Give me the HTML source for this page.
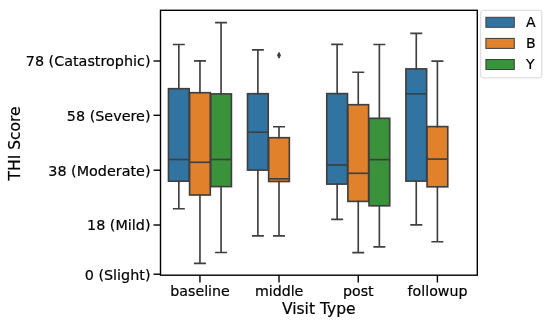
<!DOCTYPE html>
<html><head><meta charset="utf-8"><title>THI Score by Visit Type</title>
<style>html,body{margin:0;padding:0;background:#fff}svg{display:block}text{font-family:"DejaVu Sans","Liberation Sans",sans-serif;fill:#000;stroke:#000;stroke-width:0.2px}</style>
</head><body>
<svg width="550" height="324" viewBox="0 0 550 324">
<rect width="550" height="324" fill="#fff"/>
<rect x="168.48" y="88.70" width="20.70" height="92.50" fill="#3274a1" stroke="#3f3f3f" stroke-width="1.65"/>
<path d="M178.83 88.70V44.50M178.83 181.20V208.70M173.66 44.50H184.00M173.66 208.70H184.00" stroke="#3f3f3f" stroke-width="1.65" stroke-linecap="square" fill="none"/>
<path d="M168.48 159.50H189.18" stroke="#3f3f3f" stroke-width="1.65" fill="none"/>
<rect x="189.60" y="92.70" width="20.70" height="102.30" fill="#e1812c" stroke="#3f3f3f" stroke-width="1.65"/>
<path d="M199.95 92.70V60.80M199.95 195.00V263.40M194.78 60.80H205.12M194.78 263.40H205.12" stroke="#3f3f3f" stroke-width="1.65" stroke-linecap="square" fill="none"/>
<path d="M189.60 162.30H210.30" stroke="#3f3f3f" stroke-width="1.65" fill="none"/>
<rect x="210.72" y="93.90" width="20.70" height="92.70" fill="#3a923a" stroke="#3f3f3f" stroke-width="1.65"/>
<path d="M221.07 93.90V22.60M221.07 186.60V252.50M215.90 22.60H226.24M215.90 252.50H226.24" stroke="#3f3f3f" stroke-width="1.65" stroke-linecap="square" fill="none"/>
<path d="M210.72 159.50H231.42" stroke="#3f3f3f" stroke-width="1.65" fill="none"/>
<rect x="247.53" y="93.70" width="20.70" height="76.40" fill="#3274a1" stroke="#3f3f3f" stroke-width="1.65"/>
<path d="M257.88 93.70V49.90M257.88 170.10V235.90M252.71 49.90H263.05M252.71 235.90H263.05" stroke="#3f3f3f" stroke-width="1.65" stroke-linecap="square" fill="none"/>
<path d="M247.53 132.20H268.23" stroke="#3f3f3f" stroke-width="1.65" fill="none"/>
<rect x="268.65" y="137.70" width="20.70" height="43.80" fill="#e1812c" stroke="#3f3f3f" stroke-width="1.65"/>
<path d="M279.00 137.70V126.70M279.00 181.50V235.90M273.83 126.70H284.17M273.83 235.90H284.17" stroke="#3f3f3f" stroke-width="1.65" stroke-linecap="square" fill="none"/>
<path d="M268.65 178.80H289.35" stroke="#3f3f3f" stroke-width="1.65" fill="none"/>
<rect x="326.78" y="93.60" width="20.70" height="90.50" fill="#3274a1" stroke="#3f3f3f" stroke-width="1.65"/>
<path d="M337.13 93.60V44.40M337.13 184.10V219.40M331.96 44.40H342.30M331.96 219.40H342.30" stroke="#3f3f3f" stroke-width="1.65" stroke-linecap="square" fill="none"/>
<path d="M326.78 165.00H347.48" stroke="#3f3f3f" stroke-width="1.65" fill="none"/>
<rect x="347.90" y="104.70" width="20.70" height="96.70" fill="#e1812c" stroke="#3f3f3f" stroke-width="1.65"/>
<path d="M358.25 104.70V72.20M358.25 201.40V252.60M353.08 72.20H363.42M353.08 252.60H363.42" stroke="#3f3f3f" stroke-width="1.65" stroke-linecap="square" fill="none"/>
<path d="M347.90 173.30H368.60" stroke="#3f3f3f" stroke-width="1.65" fill="none"/>
<rect x="369.02" y="118.30" width="20.70" height="87.50" fill="#3a923a" stroke="#3f3f3f" stroke-width="1.65"/>
<path d="M379.37 118.30V44.50M379.37 205.80V246.90M374.20 44.50H384.54M374.20 246.90H384.54" stroke="#3f3f3f" stroke-width="1.65" stroke-linecap="square" fill="none"/>
<path d="M369.02 159.60H389.72" stroke="#3f3f3f" stroke-width="1.65" fill="none"/>
<rect x="405.93" y="68.90" width="20.70" height="112.20" fill="#3274a1" stroke="#3f3f3f" stroke-width="1.65"/>
<path d="M416.28 68.90V33.40M416.28 181.10V224.90M411.11 33.40H421.45M411.11 224.90H421.45" stroke="#3f3f3f" stroke-width="1.65" stroke-linecap="square" fill="none"/>
<path d="M405.93 93.80H426.63" stroke="#3f3f3f" stroke-width="1.65" fill="none"/>
<rect x="427.05" y="126.60" width="20.70" height="60.20" fill="#e1812c" stroke="#3f3f3f" stroke-width="1.65"/>
<path d="M437.40 126.60V61.10M437.40 186.80V241.70M432.23 61.10H442.57M432.23 241.70H442.57" stroke="#3f3f3f" stroke-width="1.65" stroke-linecap="square" fill="none"/>
<path d="M427.05 159.10H447.75" stroke="#3f3f3f" stroke-width="1.65" fill="none"/>
<path d="M279.00 52.40L280.50 55.30L279.00 58.20L277.50 55.30Z" fill="#3f3f3f" stroke="#3f3f3f" stroke-width="1" stroke-linejoin="miter"/>
<path d="M160.50 61.0h-7" stroke="#000" stroke-width="1.4"/>
<text transform="translate(150.5 66.3)" text-anchor="end" font-size="14.35">78 (Catastrophic)</text>
<path d="M160.50 115.3h-7" stroke="#000" stroke-width="1.4"/>
<text transform="translate(150.5 120.6)" text-anchor="end" font-size="14.35">58 (Severe)</text>
<path d="M160.50 170.2h-7" stroke="#000" stroke-width="1.4"/>
<text transform="translate(150.5 175.5)" text-anchor="end" font-size="14.35">38 (Moderate)</text>
<path d="M160.50 225.0h-7" stroke="#000" stroke-width="1.4"/>
<text transform="translate(150.5 230.3)" text-anchor="end" font-size="14.35">18 (Mild)</text>
<path d="M160.50 274.2h-7" stroke="#000" stroke-width="1.4"/>
<text transform="translate(150.5 279.5)" text-anchor="end" font-size="14.35">0 (Slight)</text>
<path d="M199.95 275.2v7.3" stroke="#000" stroke-width="1.4"/>
<text transform="translate(200.05 296.3)" text-anchor="middle" font-size="14.2">baseline</text>
<path d="M279.00 275.2v7.3" stroke="#000" stroke-width="1.4"/>
<text transform="translate(279.10 296.3)" text-anchor="middle" font-size="14.2">middle</text>
<path d="M358.25 275.2v7.3" stroke="#000" stroke-width="1.4"/>
<text transform="translate(358.35 296.3)" text-anchor="middle" font-size="14.2">post</text>
<path d="M437.40 275.2v7.3" stroke="#000" stroke-width="1.4"/>
<text transform="translate(437.50 296.3)" text-anchor="middle" font-size="14.2">followup</text>
<rect x="160.5" y="10.3" width="316.80" height="264.90" fill="none" stroke="#000" stroke-width="1.4"/>
<text transform="translate(318.8 314.3)" text-anchor="middle" font-size="15.55">Visit Type</text>
<text transform="translate(20.0 143.4) rotate(-90)" text-anchor="middle" font-size="15.5">THI Score</text>
<rect x="480.7" y="10.3" width="61.2" height="67.6" rx="2.8" fill="#fff" fill-opacity="0.8" stroke="#ccc" stroke-opacity="0.8" stroke-width="1"/>
<rect x="485.9" y="17.3" width="28.4" height="10" fill="#3274a1" stroke="#3f3f3f" stroke-width="1"/>
<text transform="translate(525.9 27.4)" font-size="14.1">A</text>
<rect x="485.9" y="38.4" width="28.4" height="10" fill="#e1812c" stroke="#3f3f3f" stroke-width="1"/>
<text transform="translate(525.9 48.0)" font-size="14.1">B</text>
<rect x="485.9" y="59.5" width="28.4" height="10" fill="#3a923a" stroke="#3f3f3f" stroke-width="1"/>
<text transform="translate(525.9 69.0)" font-size="14.1">Y</text>
</svg>
</body></html>
